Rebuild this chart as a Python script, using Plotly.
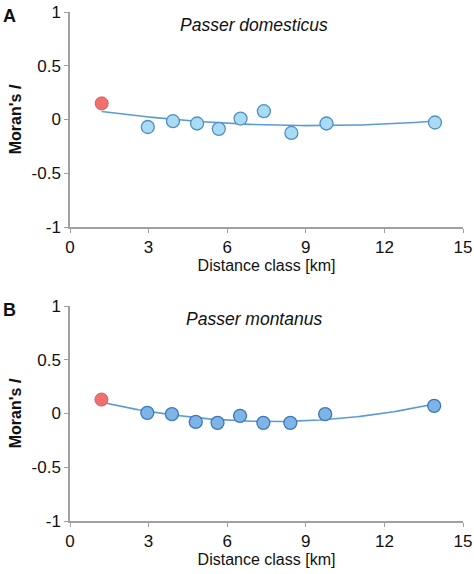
import numpy as np
import plotly.graph_objects as go

# Data
dist_a = [1.21, 2.97, 3.93, 4.85, 5.68, 6.51, 7.40, 8.45, 9.79, 13.93]
moran_a = [0.15, -0.07, -0.016, -0.037, -0.087, 0.009, 0.077, -0.125, -0.037, -0.028]
dist_b = [1.20, 2.95, 3.89, 4.80, 5.63, 6.49, 7.38, 8.41, 9.74, 13.90]
moran_b = [0.13, 0.006, -0.006, -0.078, -0.087, -0.022, -0.087, -0.087, -0.006, 0.071]
titles = ["Passer domesticus", "Passer montanus"]
panel_labels = ["A", "B"]
x_ticks = [0, 3, 6, 9, 12, 15]
y_ticks = [-1, -0.5, 0, 0.5, 1]
y_tick_text = ["-1", "-0.5", "0", "0.5", "1"]

FONT = "Arial, Liberation Sans, sans-serif"
H = 574.0
fig = go.Figure()

# plot-area pixel extents (top, bottom) per panel
px_tb = [(12, 227), (306, 521)]
doms = [[1 - b / H, 1 - t / H] for t, b in px_tb]
fills = ["#a9dcf2", "#7fb4e6"]
edges = ["#4f8fc6", "#3d78b8"]

for i, (xs, ys) in enumerate([(dist_a, moran_a), (dist_b, moran_b)]):
    xa = "x" if i == 0 else "x2"
    ya = "y" if i == 0 else "y2"
    coef = np.polyfit(xs, ys, 2)
    xt = np.linspace(min(xs), max(xs), 100)
    fig.add_trace(go.Scatter(x=xt, y=np.polyval(coef, xt), mode="lines",
                             line=dict(color="#5b9bd5", width=1.6),
                             xaxis=xa, yaxis=ya, showlegend=False, hoverinfo="skip"))
    fig.add_trace(go.Scatter(x=xs[1:], y=ys[1:], mode="markers",
                             marker=dict(size=13, color=fills[i], line=dict(color=edges[i], width=1.3)),
                             xaxis=xa, yaxis=ya, showlegend=False))
    fig.add_trace(go.Scatter(x=xs[:1], y=ys[:1], mode="markers",
                             marker=dict(size=13, color="#f07070", line=dict(color="#e05a5a", width=1)),
                             xaxis=xa, yaxis=ya, showlegend=False))

axis_common = dict(showgrid=False, zeroline=False, showline=True, linecolor="#a0a0a0",
                   linewidth=1.5, ticks="outside", ticklen=4, tickcolor="#a0a0a0",
                   automargin=False,
                   tickfont=dict(family=FONT, size=17, color="#111"))

for i in range(2):
    sx = "" if i == 0 else "2"
    fig.layout["xaxis" + sx] = go.layout.XAxis(
        **axis_common, range=[0, 15], tickvals=x_ticks, domain=[0, 1],
        anchor="y" + sx,
        title=dict(text="Distance class [km]", font=dict(family=FONT, size=16, color="#111"), standoff=4))
    fig.layout["yaxis" + sx] = go.layout.YAxis(
        **axis_common, range=[-1, 1], tickvals=y_ticks, ticktext=y_tick_text, domain=doms[i],
        anchor="x" + sx,
        title=dict(text="<b>Moran's <i>I</i></b>", font=dict(family=FONT, size=16, color="#111"), standoff=6))
    fig.add_annotation(text="<i>" + titles[i] + "</i>", xref="paper", yref="paper",
                       x=0.468, y=1 - (px_tb[i][0] + 1) / H, xanchor="center", yanchor="top", showarrow=False,
                       font=dict(family=FONT, size=17.5, color="#111"))
    fig.add_annotation(text="<b>" + panel_labels[i] + "</b>", xref="paper", yref="paper",
                       x=-0.175, y=1 - (px_tb[i][0] - 8) / H, xanchor="left", yanchor="top", showarrow=False,
                       font=dict(family=FONT, size=18, color="#111"))

fig.update_layout(width=474, height=574, margin=dict(l=70, r=11, t=0, b=0),
                  plot_bgcolor="white", paper_bgcolor="white")
fig.write_html("out.html")
